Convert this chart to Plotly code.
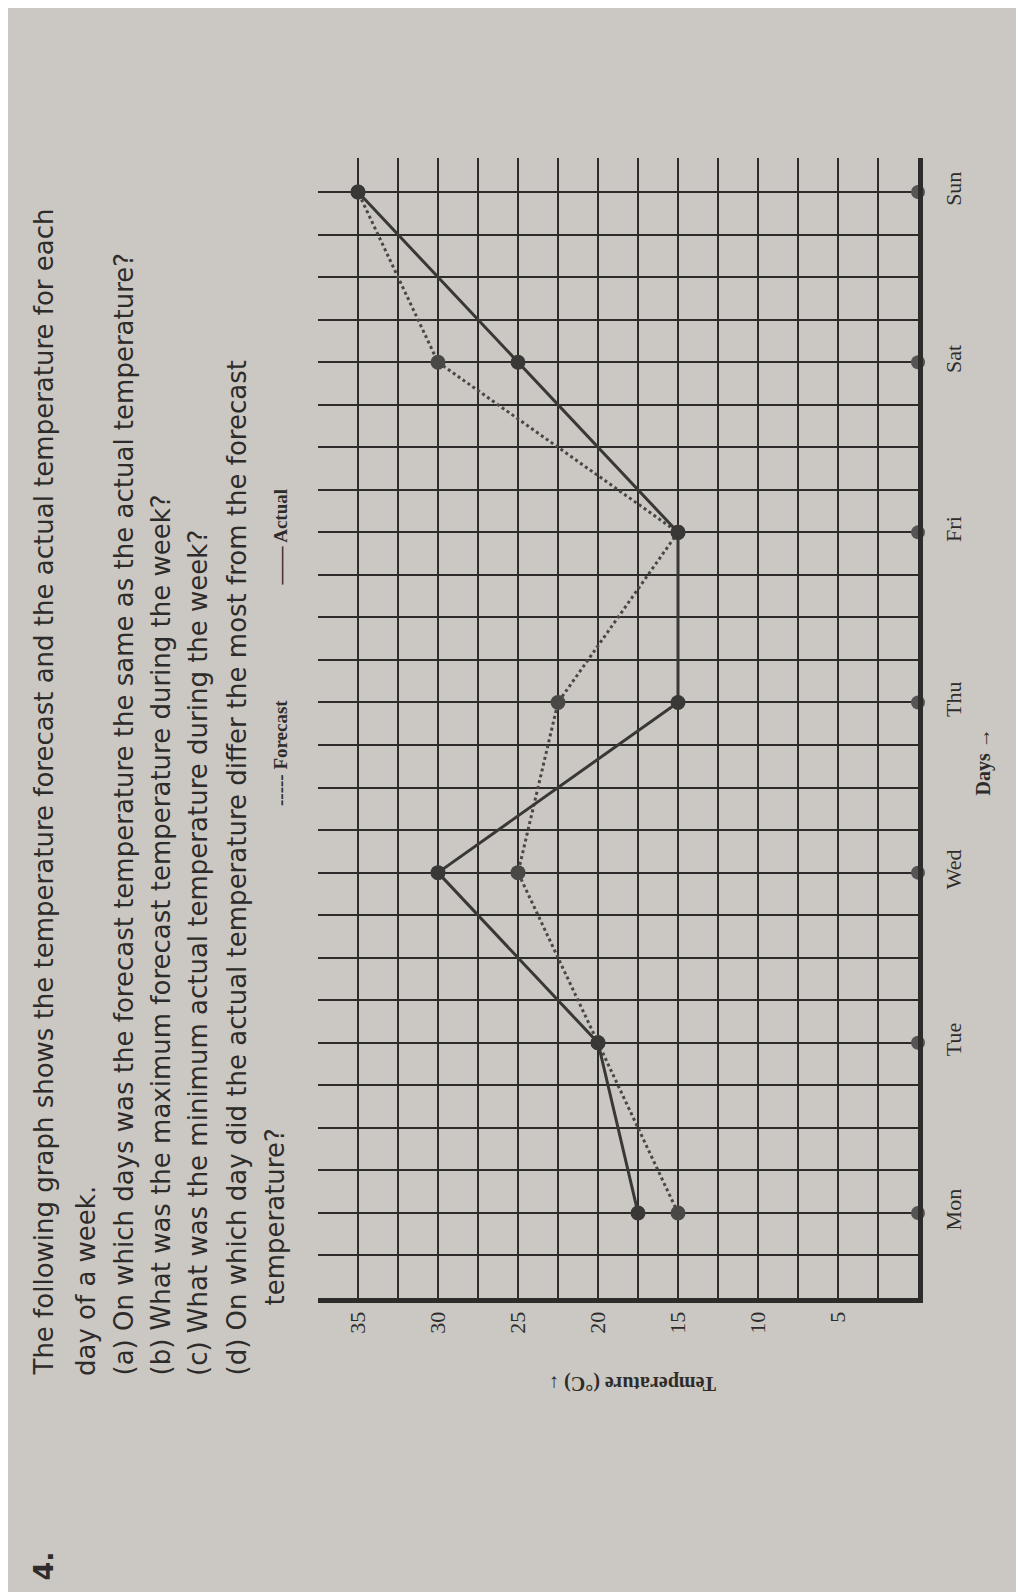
import plotly.graph_objects as go

days = ["Mon", "Tue", "Wed", "Thu", "Fri", "Sat", "Sun"]
forecast = [15, 20, 25, 22.5, 15, 30, 35]
actual = [17.5, 20, 30, 15, 15, 25, 35]
temp_ticks = [5, 10, 15, 20, 25, 30, 35]

W, H = 1024, 1592
L, R, T, B = 310, 114, 150, 302

def px(x, y):
    # pixel -> paper coords
    return (x - L) / (W - L - R), 1 - (y - T) / (H - T - B)

ink = "#2e2c2a"
paper = "#cbc8c3"
pos = list(range(len(days)))

fig = go.Figure()
fig.add_trace(go.Scatter(x=forecast, y=pos, mode="lines+markers", name="Forecast",
                         line=dict(color="#4a4846", width=3, dash="dot"),
                         marker=dict(color="#4a4846", size=15)))
fig.add_trace(go.Scatter(x=actual, y=pos, mode="lines+markers", name="Actual",
                         line=dict(color="#3a3836", width=3),
                         marker=dict(color="#3a3836", size=15)))
fig.add_trace(go.Scatter(x=[0] * len(days), y=pos, mode="markers",
                         marker=dict(color="#555", size=14), cliponaxis=False))

fig.update_xaxes(range=[37.5, 0], tickvals=temp_ticks,
                 showgrid=True, gridcolor=ink, gridwidth=1.5,
                 tickangle=-90, tickfont=dict(family="Liberation Serif", size=22, color=ink),
                 showline=True, linecolor=ink, linewidth=5, zeroline=False,
                 minor=dict(dtick=2.5, showgrid=True, gridcolor=ink, gridwidth=1.5))
fig.update_yaxes(range=[-0.5, 6.2], tickvals=pos, ticktext=days, side="right",
                 showgrid=True, gridcolor=ink, gridwidth=1.5,
                 minor=dict(dtick=0.25, showgrid=True, gridcolor=ink, gridwidth=1.5),
                 tickangle=-90, tickfont=dict(family="Liberation Serif", size=22, color=ink),
                 showline=True, linecolor=ink, linewidth=5, zeroline=False, ticklabelstandoff=12)

anns = []
def txt(x, y, s, size=27, anchor="bottom", fam="DejaVu Sans", bold=False, angle=-90, xanchor="center"):
    ax, ay = px(x, y)
    if bold:
        s = "<b>" + s + "</b>"
    anns.append(dict(x=ax, y=ay, xref="paper", yref="paper", text=s, showarrow=False,
                     textangle=angle, xanchor=xanchor, yanchor=anchor,
                     font=dict(family=fam, size=size, color=ink)))

txt(35, 1575, "4.", bold=True)
txt(35, 1370, "The following graph shows the temperature forecast and the actual temperature for each", 26)
txt(78, 1370, "day of a week.", 26)
txt(115, 1370, "(a) On which days was the forecast temperature the same as the actual temperature?", 26)
txt(152, 1370, "(b) What was the maximum forecast temperature during the week?", 26)
txt(190, 1370, "(c) What was the minimum actual temperature during the week?", 26)
txt(228, 1370, "(d) On which day did the actual temperature differ the most from the forecast", 26)
txt(266, 1300, "temperature?", 26)
txt(272, 800, "----- Forecast", 19, fam="Liberation Serif", bold=True)
txt(272, 580, "—— Actual", 19, fam="Liberation Serif", bold=True)
txt(975, 790, "Days →", 20, fam="Liberation Serif", bold=True)
txt(625, 1375, "Temperature (°C) ↓", 20, anchor="middle", fam="Liberation Serif", bold=True, angle=180)

fig.update_layout(width=W, height=H, margin=dict(l=L, r=R, t=T, b=B),
                  paper_bgcolor=paper, plot_bgcolor=paper, showlegend=False,
                  annotations=anns)
fig.write_html("out.html")
